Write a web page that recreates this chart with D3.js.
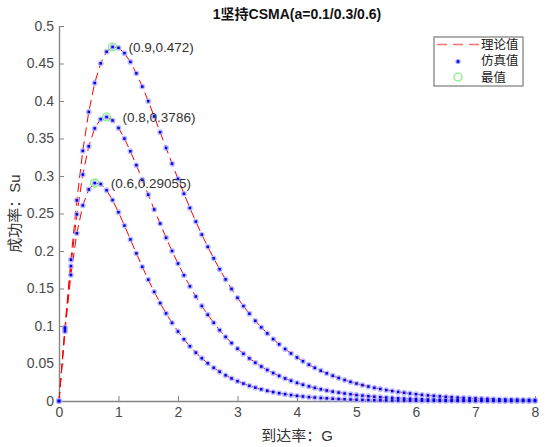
<!DOCTYPE html>
<html>
<head>
<meta charset="utf-8">
<script src="https://cdn.jsdelivr.net/npm/d3@7"></script>
<style>
  body { margin: 0; background: #fff; }
  svg text { font-family: "Liberation Sans", Arial, "Noto Sans CJK SC", sans-serif; }
</style>
</head>
<body>
<div id="container"></div>
<script>
/* CONSTANTS AND GLOBALS */
const width = 554,
  height = 447,
  margin = {top: 26, right: 19, bottom: 46, left: 59};

// offered load G (x axis), one row per unit
const gValues = [
  0, 0.1, 0.2, 0.3, 0.4, 0.5, 0.6, 0.7, 0.8, 0.9,
  1, 1.1, 1.2, 1.3, 1.4, 1.5, 1.6, 1.7, 1.8, 1.9,
  2, 2.1, 2.2, 2.3, 2.4, 2.5, 2.6, 2.7, 2.8, 2.9,
  3, 3.1, 3.2, 3.3, 3.4, 3.5, 3.6, 3.7, 3.8, 3.9,
  4, 4.1, 4.2, 4.3, 4.4, 4.5, 4.6, 4.7, 4.8, 4.9,
  5, 5.1, 5.2, 5.3, 5.4, 5.5, 5.6, 5.7, 5.8, 5.9,
  6, 6.1, 6.2, 6.3, 6.4, 6.5, 6.6, 6.7, 6.8, 6.9,
  7, 7.1, 7.2, 7.3, 7.4, 7.5, 7.6, 7.7, 7.8, 7.9,
  8
];

// throughput Su, a = 0.1
const suA01 = [
  0, 0.0980, 0.1885, 0.2676, 0.3335, 0.3855, 0.4240, 0.4502, 0.4657, 0.4720,
  0.4709, 0.4638, 0.4521, 0.4369, 0.4192, 0.3998, 0.3794, 0.3584, 0.3374, 0.3165,
  0.2962, 0.2764, 0.2574, 0.2392, 0.2219, 0.2056, 0.1902, 0.1757, 0.1621, 0.1494,
  0.1376, 0.1266, 0.1164, 0.1069, 0.0982, 0.0901, 0.0826, 0.0756, 0.0693, 0.0634,
  0.0580, 0.0530, 0.0485, 0.0443, 0.0404, 0.0369, 0.0337, 0.0307, 0.0280, 0.0255,
  0.0233, 0.0212, 0.0193, 0.0176, 0.0160, 0.0146, 0.0133, 0.0121, 0.0110, 0.0100,
  0.0091, 0.0082, 0.0075, 0.0068, 0.0062, 0.0056, 0.0051, 0.0046, 0.0042, 0.0038,
  0.0035, 0.0031, 0.0029, 0.0026, 0.0023, 0.0021, 0.0019, 0.0017, 0.0016, 0.0014,
  0.0013
];

// throughput Su, a = 0.3
const suA03 = [
  0, 0.0959, 0.1799, 0.2489, 0.3019, 0.3396, 0.3635, 0.3758, 0.3786, 0.3741,
  0.3640, 0.3499, 0.3330, 0.3145, 0.2950, 0.2751, 0.2554, 0.2366, 0.2177, 0.2000,
  0.1833, 0.1676, 0.1529, 0.1393, 0.1267, 0.1150, 0.1043, 0.0945, 0.0855, 0.0773,
  0.0698, 0.0630, 0.0568, 0.0511, 0.0460, 0.0414, 0.0373, 0.0335, 0.0301, 0.0270,
  0.0242, 0.0217, 0.0195, 0.0175, 0.0156, 0.0140, 0.0125, 0.0112, 0.0100, 0.0090,
  0.0080, 0.0072, 0.0064, 0.0057, 0.0051, 0.0046, 0.0041, 0.0036, 0.0032, 0.0029,
  0.0026, 0.0023, 0.0020, 0.0018, 0.0016, 0.0014, 0.0013, 0.0011, 0.0010, 0.0009,
  0.0008, 0.0007, 0.0006, 0.0006, 0.0005, 0.0005, 0.0004, 0.0004, 0.0003, 0.0003,
  0.0003
];

// throughput Su, a = 0.6
const suA06 = [
  0, 0.0928, 0.1680, 0.2236, 0.2608, 0.2821, 0.2906, 0.2893, 0.2810, 0.2679,
  0.2517, 0.2339, 0.2154, 0.1969, 0.1789, 0.1618, 0.1456, 0.1306, 0.1168, 0.1042,
  0.0927, 0.0823, 0.0729, 0.0645, 0.0570, 0.0503, 0.0443, 0.0390, 0.0343, 0.0301,
  0.0264, 0.0232, 0.0203, 0.0178, 0.0156, 0.0136, 0.0119, 0.0104, 0.0091, 0.0079,
  0.0069, 0.0060, 0.0052, 0.0046, 0.0040, 0.0035, 0.0030, 0.0026, 0.0023, 0.0020,
  0.0017, 0.0015, 0.0013, 0.0011, 0.0010, 0.0008, 0.0007, 0.0006, 0.0006, 0.0005,
  0.0004, 0.0004, 0.0003, 0.0003, 0.0002, 0.0002, 0.0002, 0.0002, 0.0001, 0.0001,
  0.0001, 0.0001, 0.0001, 0.0001, 0.0001, 0.0000, 0.0000, 0.0000, 0.0000, 0.0000,
  0.0000
];

// maxima marked with green circles
const peakG = [0.9, 0.8, 0.6];
const peakSu = [0.472, 0.3786, 0.29055];
const peakLabels = ["(0.9,0.472)", "(0.8,0.3786)", "(0.6,0.29055)"];

const xTicks = [0, 1, 2, 3, 4, 5, 6, 7, 8];
const yTicks = [0, 0.05, 0.1, 0.15, 0.2, 0.25, 0.3, 0.35, 0.4, 0.45, 0.5];
const yTickLabels = ["0", "0.05", "0.1", "0.15", "0.2", "0.25", "0.3", "0.35", "0.4", "0.45", "0.5"];

const legendLabels = ["理论值", "仿真值", "最值"];

const series = [suA01, suA03, suA06].map(arr => arr.map((s, i) => ({g: gValues[i], s: s})));

/* SCALES */
const xScale = d3.scaleLinear()
  .domain([0, 8])
  .range([margin.left, width - margin.right]);

const yScale = d3.scaleLinear()
  .domain([0, 0.5])
  .range([height - margin.bottom, margin.top]);

/* SVG */
const svg = d3.select("#container")
  .append("svg")
  .attr("width", width)
  .attr("height", height);

// AXES (MATLAB style: ticks pointing inward, no box)
const xAxis = d3.axisBottom(xScale)
  .tickValues(xTicks)
  .tickFormat(d => d)
  .tickSizeInner(-5)
  .tickSizeOuter(0)
  .tickPadding(6);

const yAxis = d3.axisLeft(yScale)
  .tickValues(yTicks)
  .tickFormat((d, i) => yTickLabels[i])
  .tickSizeInner(-5)
  .tickSizeOuter(0)
  .tickPadding(5);

const xAxisGroup = svg.append("g")
  .attr("transform", `translate(0,${height - margin.bottom})`)
  .call(xAxis);

const yAxisGroup = svg.append("g")
  .attr("transform", `translate(${margin.left},0)`)
  .call(yAxis);

[xAxisGroup, yAxisGroup].forEach(g => {
  g.select(".domain").attr("stroke", "#858585").attr("stroke-width", 1.4);
  g.selectAll(".tick line").attr("stroke", "#858585");
  g.selectAll(".tick text").attr("fill", "#4a4a4a").style("font-size", "14px");
});

// LINES (theory)
const lineGen = d3.line()
  .x(d => xScale(d.g))
  .y(d => yScale(d.s));

svg.selectAll(".line")
  .data(series)
  .join("path")
  .attr("class", "line")
  .attr("fill", "none")
  .attr("stroke", "#ff0000")
  .attr("stroke-width", 1)
  .attr("stroke-dasharray", "9,5")
  .attr("d", d => lineGen(d));

// SIMULATION POINTS
const pts = series.flat();

svg.selectAll(".halo")
  .data(pts)
  .join("circle")
  .attr("class", "halo")
  .attr("cx", d => xScale(d.g))
  .attr("cy", d => yScale(d.s))
  .attr("r", 2.9)
  .attr("fill", "#a6a6ff")
  .attr("opacity", 0.75);

svg.selectAll(".pt")
  .data(pts)
  .join("rect")
  .attr("class", "pt")
  .attr("x", d => xScale(d.g) - 1.25)
  .attr("y", d => yScale(d.s) - 1.25)
  .attr("width", 2.5)
  .attr("height", 2.5)
  .attr("fill", "#0000f0");

// MAXIMA
svg.selectAll(".peak")
  .data(peakG)
  .join("circle")
  .attr("class", "peak")
  .attr("cx", d => xScale(d))
  .attr("cy", (d, i) => yScale(peakSu[i]))
  .attr("r", 4)
  .attr("fill", "none")
  .attr("stroke", "#6cf06c")
  .attr("stroke-width", 1.1);

svg.selectAll(".peakLabel")
  .data(peakLabels)
  .join("text")
  .attr("class", "peakLabel")
  .attr("x", (d, i) => xScale(peakG[i]) + 16)
  .attr("y", (d, i) => yScale(peakSu[i]))
  .attr("dy", "0.35em")
  .attr("fill", "#333")
  .style("font-size", "13.5px")
  .text(d => d);

// TITLE AND AXIS LABELS
const midX = (margin.left + width - margin.right) / 2;

svg.append("text")
  .attr("x", midX)
  .attr("y", 19)
  .attr("text-anchor", "middle")
  .attr("fill", "#111")
  .style("font-size", "14px")
  .style("font-weight", "bold")
  .text("1坚持CSMA(a=0.1/0.3/0.6)");

svg.append("text")
  .attr("x", midX)
  .attr("y", 441)
  .attr("text-anchor", "middle")
  .attr("fill", "#333")
  .style("font-size", "15px")
  .text("到达率：G");

svg.append("text")
  .attr("transform", `translate(20,${(margin.top + height - margin.bottom) / 2}) rotate(-90)`)
  .attr("text-anchor", "middle")
  .attr("fill", "#333")
  .style("font-size", "15px")
  .text("成功率：Su");

// LEGEND
const legend = svg.append("g").attr("transform", "translate(434,37)");

legend.append("rect")
  .attr("width", 89)
  .attr("height", 49)
  .attr("fill", "#fff")
  .attr("stroke", "#7a7a7a")
  .attr("stroke-width", 1.2);

legend.append("line")
  .attr("x1", 3).attr("x2", 45)
  .attr("y1", 7.5).attr("y2", 7.5)
  .attr("stroke", "#ff6f6f")
  .attr("stroke-width", 1.5)
  .attr("stroke-dasharray", "10,6");

legend.append("circle")
  .attr("cx", 24).attr("cy", 24.5)
  .attr("r", 2.6)
  .attr("fill", "#a6a6ff");

legend.append("rect")
  .attr("x", 22.75).attr("y", 23.25)
  .attr("width", 2.5).attr("height", 2.5)
  .attr("fill", "#0000f0");

legend.append("circle")
  .attr("cx", 24).attr("cy", 40)
  .attr("r", 4)
  .attr("fill", "none")
  .attr("stroke", "#6cf06c")
  .attr("stroke-width", 1.1);

legend.selectAll(".legendText")
  .data(legendLabels)
  .join("text")
  .attr("class", "legendText")
  .attr("x", 47)
  .attr("y", (d, i) => 7.5 + i * 16.3)
  .attr("dy", "0.36em")
  .attr("fill", "#222")
  .style("font-size", "12.5px")
  .text(d => d);
</script>
</body>
</html>
